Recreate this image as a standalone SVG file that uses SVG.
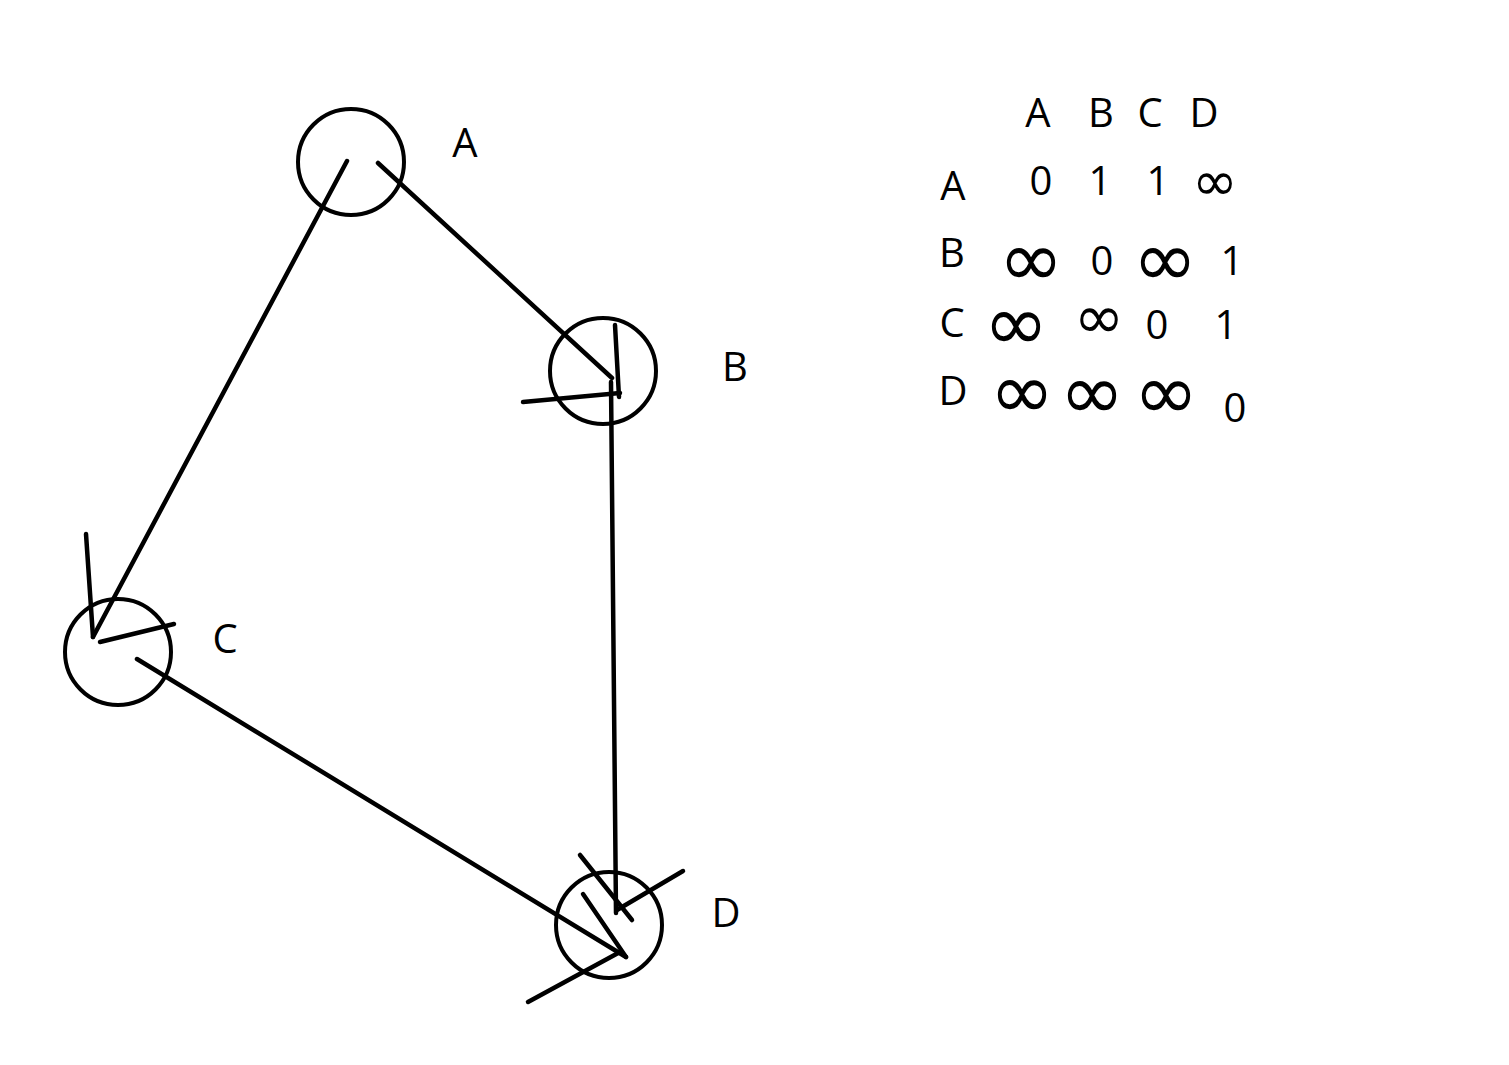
<svg xmlns="http://www.w3.org/2000/svg" width="1509" height="1065" viewBox="0 0 1509 1065">
<style>
.n{fill:none;stroke:#000;stroke-width:4}
.e line{stroke:#000;stroke-width:4.5;stroke-linecap:round}
text{font-family:"Open Sans","Liberation Sans",sans-serif;font-size:40px;fill:#000;text-anchor:middle}
text.inf{font-family:"DejaVu Sans",sans-serif;font-size:78px}
text.inf.s{font-size:55px}
text.inf.m{font-size:61px}
</style>
<rect width="1509" height="1065" fill="#fff"/>
<g id="connectors" class="e">
<line x1="347" y1="161" x2="93" y2="637"/>
<line x1="86" y1="534" x2="93" y2="637"/>
<line x1="100" y1="642" x2="174" y2="624"/>
<line x1="378" y1="163" x2="612" y2="378"/>
<line x1="615" y1="325" x2="619" y2="397"/>
<line x1="523" y1="402" x2="620" y2="393"/>
<line x1="611" y1="382" x2="616" y2="913"/>
<line x1="580" y1="855" x2="632" y2="920"/>
<line x1="617" y1="910" x2="683" y2="871"/>
<line x1="137" y1="659" x2="626" y2="957"/>
<line x1="583" y1="894" x2="626" y2="957"/>
<line x1="528" y1="1002" x2="620" y2="952"/>
</g>
<g id="node-A"><circle class="n" cx="351" cy="162" r="53"/><text x="465" y="157">A</text></g>
<g id="node-B"><circle class="n" cx="603" cy="371" r="53"/><text x="735" y="381">B</text></g>
<g id="node-C"><circle class="n" cx="118" cy="652" r="53"/><text x="225" y="653">C</text></g>
<g id="node-D"><circle class="n" cx="609" cy="925" r="53"/><text x="726" y="927">D</text></g>
<g id="matrix">
<text x="1038" y="127">A</text><text x="1101" y="127">B</text><text x="1150" y="127">C</text><text x="1204" y="127">D</text>
<text x="953" y="200">A</text><text x="952" y="267">B</text><text x="952" y="337">C</text><text x="953" y="405">D</text>
<text x="1041" y="195">0</text><text x="1100" y="195">1</text><text x="1158" y="195">1</text><text class="inf s" x="1215" y="200">∞</text>
<text class="inf" x="1031" y="286">∞</text><text x="1102" y="275">0</text><text class="inf" x="1165" y="286">∞</text><text x="1232" y="275">1</text>
<text class="inf" x="1016" y="350">∞</text><text class="inf m" x="1099" y="338">∞</text><text x="1157" y="339">0</text><text x="1226" y="339">1</text>
<text class="inf" x="1022" y="418">∞</text><text class="inf" x="1092" y="419">∞</text><text class="inf" x="1166" y="419">∞</text><text x="1235" y="422">0</text>
</g>
</svg>
